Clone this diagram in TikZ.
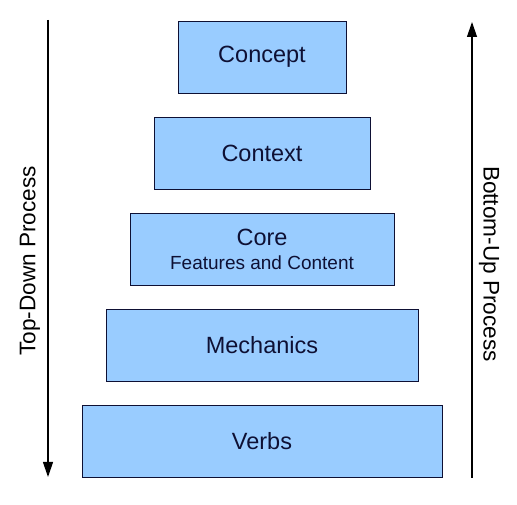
\documentclass[tikz,border=0pt]{standalone}
\usepackage{fontspec}
\setmainfont{Liberation Sans}
\usetikzlibrary{arrows.meta, positioning}
\definecolor{levelfill}{RGB}{153, 204, 255}
\definecolor{leveltext}{RGB}{14, 16, 52}
\tikzstyle{level}   = [rectangle, minimum height=72pt, text centered, align=center,
                       draw=leveltext, fill=levelfill, line width=0.8pt,
                       text=leveltext, font=\fontsize{23.5}{27}\selectfont]
\tikzstyle{sidetxt} = [font=\fontsize{22.6}{26}\selectfont, text=black]
\tikzstyle{arrow}   = [-{Triangle[length=15pt, width=10pt]}, line width=1.2pt]

\begin{document}
\begin{tikzpicture}[x=1pt, y=1pt, node distance=23.2pt]
  \useasboundingbox (0,0) rectangle (517,505);

  % Pyramid of levels
  \node (concept) [level, minimum width=168pt] at (262,448) {Concept};
  \node (context) [level, minimum width=216pt, below=of concept] {Context};
  \node (core)    [level, minimum width=264pt, below=of context]
                  {Core\\[-3pt]{\fontsize{19}{22}\selectfont Features and Content}};
  \node (mech)    [level, minimum width=312pt, below=of core] {Mechanics};
  \node (verbs)   [level, minimum width=360pt, below=of mech] {Verbs};

  % Process directions
  \coordinate (tdtop) at (48,485);
  \coordinate (tdbot) at (48,28);
  \coordinate (butop) at (472,483);
  \coordinate (bubot) at (472,27);

  \node (topdown)  [sidetxt, rotate=90]  at (30,244)  {Top-Down Process};
  \node (bottomup) [sidetxt, rotate=-90] at (489,241) {Bottom-Up Process};

  \draw [arrow] (tdtop) -- (tdbot);
  \draw [arrow] (bubot) -- (butop);
\end{tikzpicture}
\end{document}
